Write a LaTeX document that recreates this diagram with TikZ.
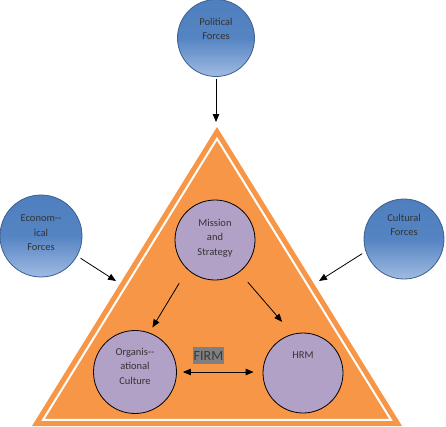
\documentclass[tikz,border=0pt]{standalone}
\usepackage{fontspec}
\setmainfont{Carlito}
\usepackage{tikz}
\usetikzlibrary{positioning,arrows.meta,calc}

\definecolor{firmorange}{HTML}{F79646}
\definecolor{unitpurple}{HTML}{B2A1C7}
\definecolor{forcetop}{HTML}{4F7FBE}
\definecolor{forcemid}{HTML}{5584C3}
\definecolor{forcebot}{HTML}{A0BBE2}
\definecolor{forceline}{HTML}{3C5F8E}
\definecolor{txtgray}{HTML}{333333}
\definecolor{firmbg}{HTML}{7F7F7F}
\definecolor{firmtxt}{HTML}{3A3A3A}

\begin{document}
\begin{tikzpicture}[x=1pt, y=-1pt,
    force/.style={circle, minimum size=80pt, inner sep=0pt, draw=forceline, line width=0.8pt,
                  top color=forcetop, bottom color=forcebot, middle color=forcemid},
    unit/.style={circle, minimum size=80pt, inner sep=0pt, draw=black, line width=0.8pt,
                 fill=unitpurple},
    txt/.style={align=center, font=\fontsize{10.5}{14.5}\selectfont, text=txtgray},
    arr/.style={-{Triangle[length=8pt, width=6.5pt]}, line width=0.8pt},
    dbl/.style={{Triangle[length=8pt, width=6.5pt]}-{Triangle[length=8pt, width=6.5pt]},
                line width=0.8pt}
  ]
  \useasboundingbox (0,0) rectangle (446,426);

  % ---------------- the firm ----------------
  \coordinate (apex) at (217,127);
  \coordinate (bl)   at (32,426);
  \coordinate (br)   at (402,426);
  \coordinate (inc)  at (217,322);
  \fill[firmorange] (apex) -- (bl) -- (br) -- cycle;
  \draw[white, line width=2pt] ($(inc)!0.94!(apex)$) -- ($(inc)!0.94!(bl)$)
    -- ($(inc)!0.94!(br)$) -- cycle;

  % ---------------- outside forces ----------------
  \node[force, minimum size=77pt, label={[txt, yshift=9pt]center:Political\\Forces}]
    (pol) at (216,38) {};
  \node[force, minimum size=82pt, label={[txt, yshift=3pt]center:Econom-{}-\\ical\\Forces}]
    (eco) at (41,236) {};
  \node[force, label={[txt, yshift=14pt]center:Cultural\\Forces}]
    (cul) at (404,239) {};

  \coordinate (tophit)   at (216,122);
  \coordinate (lefthit)  at (116,281);
  \coordinate (righthit) at (319,281);
  \draw[arr, shorten <=2pt] (pol.south) -- (tophit);
  \draw[arr, shorten <=4pt] (eco.-29) -- (lefthit);
  \draw[arr, shorten <=4pt] (cul.198) -- (righthit);

  % ---------------- inside the firm ----------------
  \node[unit, label={[txt, yshift=2pt]center:Mission\\and\\Strategy}]
    (mis) at (215,240) {};
  \node[unit, minimum size=83pt, label={[txt, yshift=6pt]center:Organis-{}-\\ational\\Culture}]
    (org) at (135,372) {};
  \node[unit, label={[txt, yshift=18pt]center:HRM}]
    (hrm) at (303,373) {};
  \node[fill=firmbg, text=firmtxt, font=\fontsize{14}{16}\selectfont, inner sep=0pt,
        minimum width=31pt, minimum height=17pt] (firm) at (208.5,355.5) {FIRM};

  \draw[arr, shorten <=16pt, shorten >=6pt] (mis.-133) -- (org.70);
  \draw[arr, shorten <=13pt, shorten >=16pt] (mis.-53) -- (hrm.105);
  \draw[dbl, shorten <=6pt, shorten >=9pt] (org.east) -- (org.east -| hrm.west);
\end{tikzpicture}
\end{document}
